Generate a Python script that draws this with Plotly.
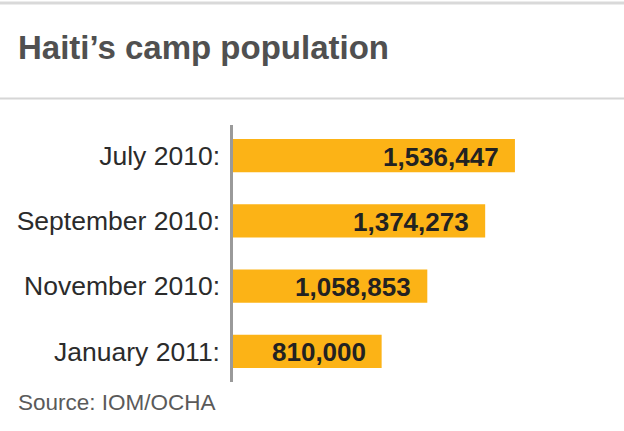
import plotly.graph_objects as go

categories = ["July 2010", "September 2010", "November 2010", "January 2011"]
values = [1536447, 1374273, 1058853, 810000]
value_labels = ["1,536,447", "1,374,273", "1,058,853", "810,000"]
title_text = "Haiti\u2019s camp population"
source_text = "Source: IOM/OCHA"

W, H = 624, 431
ML, MR, MT, MB = 233, 24, 123, 47
PW = W - ML - MR
PH = H - MT - MB

def py(p):
    return (H - MB - p) / PH

def px(p):
    return (p - ML) / PW

FONT = "Liberation Sans, Arial, Helvetica, sans-serif"
BAR = "#FCB316"

fig = go.Figure()
fig.add_trace(go.Bar(
    y=categories, x=values, orientation="h",
    marker=dict(color=BAR, line=dict(width=0)),
    hoverinfo="skip",
))

annotations = []
for c, v, t in zip(categories, values, value_labels):
    annotations.append(dict(
        x=v, y=c, xref="x", yref="y", text=t, showarrow=False,
        xanchor="right", yanchor="middle", xshift=-14, yshift=-1,
        font=dict(family=FONT, size=26, color="#222222", weight="bold"),
    ))
annotations.append(dict(
    x=px(16), y=py(47), xref="paper", yref="paper", text="<b>" + title_text + "</b>",
    showarrow=False, xanchor="left", yanchor="middle",
    font=dict(family=FONT, size=33, color="#505050"),
))
annotations.append(dict(
    x=px(16), y=py(402), xref="paper", yref="paper", text=source_text,
    showarrow=False, xanchor="left", yanchor="middle",
    font=dict(family=FONT, size=22.5, color="#5a5a5a"),
))

shapes = [
    dict(type="line", xref="paper", yref="paper", x0=px(0), x1=px(W), y0=py(3), y1=py(3),
         line=dict(color="#d9d9d9", width=3)),
    dict(type="line", xref="paper", yref="paper", x0=px(0), x1=px(W), y0=py(98.5), y1=py(98.5),
         line=dict(color="#d6d6d6", width=2)),
    dict(type="line", xref="paper", yref="paper", x0=px(231.5), x1=px(231.5), y0=py(125), y1=py(382),
         line=dict(color="#9a9a9a", width=3)),
]

fig.update_layout(
    width=W, height=H,
    margin=dict(l=ML, r=MR, t=MT, b=MB, pad=0),
    paper_bgcolor="white", plot_bgcolor="white",
    showlegend=False, bargap=0.49,
    annotations=annotations, shapes=shapes,
    xaxis=dict(range=[0, 2000000], visible=False, fixedrange=True),
    yaxis=dict(
        autorange="reversed", type="category",
        tickvals=categories, ticktext=[c + ":" for c in categories],
        ticks="", showline=False, showgrid=False, zeroline=False,
        ticklabelstandoff=12,
        tickfont=dict(family=FONT, size=26.5, color="#2b2b2b"),
        fixedrange=True,
    ),
)

fig.write_html("out.html", config={"displayModeBar": False})
